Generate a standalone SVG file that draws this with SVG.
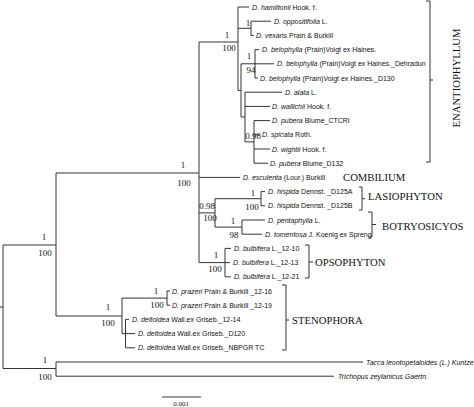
<svg xmlns="http://www.w3.org/2000/svg" width="474" height="407" viewBox="0 0 474 407">
<style>
.br{fill:none;stroke:#333;stroke-width:1}
.t{font-family:"Liberation Sans",Arial,sans-serif;font-size:7px;fill:#111}
.i{font-style:italic}
.s{font-family:"Liberation Serif","Times New Roman",serif;font-size:9px;fill:#111;text-anchor:middle}
.c{font-family:"Liberation Serif","Times New Roman",serif;font-size:10.7px;fill:#111}
</style>
<rect width="474" height="407" fill="#fff"/>
<g id="connectors" class="br">
<path d="M0,307H3M3,245V368.5M3,245H56M3,368.5H56"/>
<path d="M56,173V316M56,173H199M56,316H122"/>
<path d="M56,362V376.2M56,362H363M56,376.2H334"/>
<path d="M199,42V262.6M199,42H238M199,177.4H240M199,212.9H215M199,262.6H225"/>
<path d="M238,7V90.4M238,7H249M238,28.3H251M238,90.4H241"/>
<path d="M251,21.2V35.4M251,21.2H271M251,35.4H254"/>
<path d="M241,63.8V117M241,63.8H255M241,117H245"/>
<path d="M255,49.6V78M255,49.6H259M255,63.8H274M255,78H258"/>
<path d="M245,92.2V141.9M245,92.2H282M245,106.4H270M245,141.9H254"/>
<path d="M254,120.6V163.2M254,120.6H270M254,134.8H259M254,149H270M254,163.2H268"/>
<path d="M215,198.7V227.1M215,198.7H261M215,227.1H242"/>
<path d="M261,191.6V205.8M261,191.6H265M261,205.8H265"/>
<path d="M242,220V234.2M242,220H265M242,234.2H262"/>
<path d="M225,248.4V276.8M225,248.4H231M225,262.6H230M225,276.8H231"/>
<path d="M122,298.1V333.6M122,298.1H167M122,333.6H125.5"/>
<path d="M167,291V305.2M167,291H170M167,305.2H170"/>
<path d="M125.5,319.4V347.8M125.5,319.4H129M125.5,333.6H135M125.5,347.8H135"/>
<path d="M162,397H201"/>
</g>
<g id="tips">
<g id="n-hamiltonii"><text class="t" x="252" y="9.5"><tspan class="i">D. hamiltonii</tspan> Hook. f.</text></g>
<g id="n-oppositifolia"><text class="t" x="274" y="23.7"><tspan class="i">D. oppositifolia</tspan> L.</text></g>
<g id="n-vexans"><text class="t" x="256" y="37.9"><tspan class="i">D. vexans</tspan> Prain &amp; Burkill</text></g>
<g id="n-belophylla1"><text class="t" x="262" y="52.1"><tspan class="i">D. belophylla</tspan> (Prain)Voigt ex Haines.</text></g>
<g id="n-belophylla2"><text class="t" x="277" y="66.3"><tspan class="i">D. belophylla</tspan> (Prain)Voigt ex Haines._Dehradun</text></g>
<g id="n-belophylla3"><text class="t" x="260" y="80.5"><tspan class="i">D. belophylla</tspan> (Prain)Voigt ex Haines._D130</text></g>
<g id="n-alata"><text class="t" x="285" y="94.7"><tspan class="i">D. alata</tspan> L.</text></g>
<g id="n-wallichii"><text class="t" x="272" y="108.9"><tspan class="i">D. wallichii</tspan> Hook. f.</text></g>
<g id="n-pubera1"><text class="t" x="272" y="123.1"><tspan class="i">D. pubera</tspan> Blume_CTCRI</text></g>
<g id="n-spicata"><text class="t" x="262" y="137.3"><tspan class="i">D. spicata</tspan> Roth.</text></g>
<g id="n-wightii"><text class="t" x="272" y="151.5"><tspan class="i">D. wightii</tspan> Hook. f.</text></g>
<g id="n-pubera2"><text class="t" x="270" y="165.7"><tspan class="i">D. pubera</tspan> Blume_D132</text></g>
<g id="n-esculenta"><text class="t" x="243" y="179.9"><tspan class="i">D. esculenta</tspan> (Lour.) Burkill</text></g>
<g id="n-hispida1"><text class="t" x="268" y="194.1"><tspan class="i">D. hispida</tspan> Dennst. _D125A</text></g>
<g id="n-hispida2"><text class="t" x="268" y="208.3"><tspan class="i">D. hispida</tspan> Dennst. _D125B</text></g>
<g id="n-pentaphylla"><text class="t" x="268" y="222.5"><tspan class="i">D. pentaphylla</tspan> L.</text></g>
<g id="n-tomentosa"><text class="t" x="265" y="236.7"><tspan class="i">D. tomentosa</tspan> J. Koenig ex Spreng</text></g>
<g id="n-bulbifera1"><text class="t" x="234" y="250.9"><tspan class="i">D. bulbifera</tspan> L._12-10</text></g>
<g id="n-bulbifera2"><text class="t" x="233" y="265.1"><tspan class="i">D. bulbifera</tspan> L._12-13</text></g>
<g id="n-bulbifera3"><text class="t" x="234" y="279.3"><tspan class="i">D. bulbifera</tspan> L._12-21</text></g>
<g id="n-prazeri1"><text class="t" x="172" y="293.5"><tspan class="i">D. prazeri</tspan> Prain &amp; Burkill _12-16</text></g>
<g id="n-prazeri2"><text class="t" x="172" y="307.7"><tspan class="i">D. prazeri</tspan> Prain &amp; Burkill _12-19</text></g>
<g id="n-deltoidea1"><text class="t" x="132" y="321.9"><tspan class="i">D. deltoidea</tspan> Wall.ex Griseb._12-14</text></g>
<g id="n-deltoidea2"><text class="t" x="138" y="336.1"><tspan class="i">D. deltoidea</tspan> Wall.ex Griseb._D120</text></g>
<g id="n-deltoidea3"><text class="t" x="138" y="350.3"><tspan class="i">D. deltoidea</tspan> Wall.ex Griseb._NBPGR TC</text></g>
<g id="n-tacca"><text class="t i" x="366" y="364.5">Tacca leontopetaloides (L.) Kuntze</text></g>
<g id="n-trichopus"><text class="t i" x="338" y="378.7">Trichopus zeylanicus Gaertn.</text></g>
</g>
<g id="supports">
<text class="s" x="44" y="240">1</text><text class="s" x="45" y="256">100</text>
<text class="s" x="45" y="363">1</text><text class="s" x="45" y="380">100</text>
<text class="s" x="183" y="168">1</text><text class="s" x="184" y="186">100</text>
<text class="s" x="108" y="310">1</text><text class="s" x="108" y="326">100</text>
<text class="s" x="227" y="38">1</text><text class="s" x="229" y="51">100</text>
<text class="s" x="248" y="26">1</text>
<text class="s" x="249" y="59">1</text><text class="s" x="251" y="73">94</text>
<text class="s" x="253" y="139">0.98</text>
<text class="s" x="207" y="209">0.98</text><text class="s" x="210" y="220.5">100</text>
<text class="s" x="253" y="196">1</text><text class="s" x="252" y="210">100</text>
<text class="s" x="233" y="224">1</text><text class="s" x="234" y="237.5">98</text>
<text class="s" x="216" y="258">1</text><text class="s" x="215" y="272">100</text>
<text class="s" x="156" y="294">1</text><text class="s" x="157" y="307.5">100</text>
<text class="s" x="181" y="405.5" style="font-size:7px">0.001</text>
</g>
<g id="clades">
<path class="br" d="M426,1H430V162H426M430,80H433"/>
<text class="c" transform="translate(460,78) rotate(-90)" text-anchor="middle">ENANTIOPHYLLUM</text>
<text class="c" x="343" y="181">COMBILIUM</text>
<path class="br" d="M359,187H362V210H359M362,198.7H365"/>
<text class="c" x="368" y="200">LASIOPHYTON</text>
<path class="br" d="M368,212H372V237H368M372,224.5H376"/>
<text class="c" x="382" y="229.5">BOTRYOSICYOS</text>
<path class="br" d="M305,245H309V278H305M309,262H313"/>
<text class="c" x="315" y="266">OPSOPHYTON</text>
<path class="br" d="M282,285H286V350H282M286,320H289"/>
<text class="c" x="292" y="324">STENOPHORA</text>
</g>
</svg>
